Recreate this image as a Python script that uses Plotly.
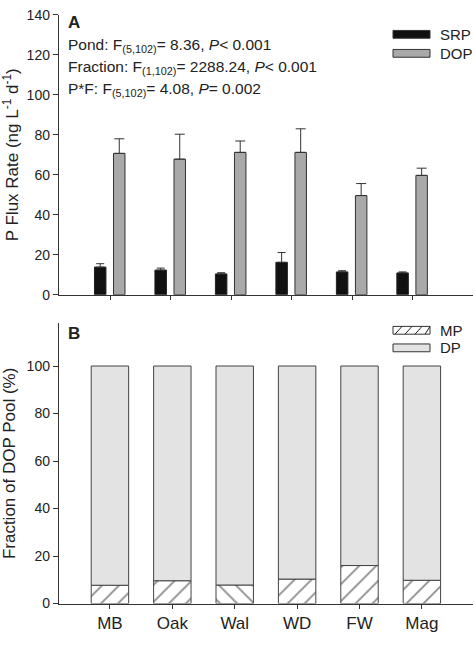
import plotly.graph_objects as go

ponds = ["MB", "Oak", "Wal", "WD", "FW", "Mag"]
srp = [13.8, 12.3, 10.4, 16.2, 11.4, 10.9]
srp_se = [1.7, 1.0, 0.6, 4.9, 0.6, 0.5]
dop = [70.7, 67.8, 71.2, 71.2, 49.6, 59.7]
dop_se = [7.3, 12.5, 5.7, 11.8, 6.0, 3.6]
mp = [7.7, 9.6, 7.8, 10.3, 16.0, 9.8]
dp = [100 - v for v in mp]
mp_hatch = ["/", "/", "\\", "/", "/", "/"]

font = "Liberation Sans, Arial, sans-serif"
axcol = "#333333"

fig = go.Figure()

# panel A
fig.add_trace(go.Bar(x=list(range(6)), y=srp, width=0.19, offset=-0.26,
                     marker=dict(color="#111111", line=dict(color="#222222", width=1)),
                     error_y=dict(type="data", symmetric=False, array=srp_se,
                                  arrayminus=[0] * 6, color="#333333",
                                  thickness=1, width=4),
                     xaxis="x", yaxis="y", showlegend=False))
fig.add_trace(go.Bar(x=list(range(6)), y=dop, width=0.19, offset=0.055,
                     marker=dict(color="#a9a9a9", line=dict(color="#333333", width=1)),
                     error_y=dict(type="data", symmetric=False, array=dop_se,
                                  arrayminus=[0] * 6, color="#333333",
                                  thickness=1, width=5),
                     xaxis="x", yaxis="y", showlegend=False))

# panel B
fig.add_trace(go.Bar(x=list(range(6)), y=mp, width=0.6, offset=-0.3,
                     marker=dict(color="white", line=dict(color="#444444", width=1),
                                 pattern=dict(shape=mp_hatch, fgcolor="#111111",
                                              bgcolor="white", size=12, solidity=0.14)),
                     xaxis="x2", yaxis="y2", showlegend=False))
fig.add_trace(go.Bar(x=list(range(6)), y=dp, base=mp, width=0.6, offset=-0.3,
                     marker=dict(color="#e3e3e3", line=dict(color="#444444", width=1)),
                     xaxis="x2", yaxis="y2", showlegend=False))

axis_common = dict(showline=True, linecolor=axcol, linewidth=1, ticks="outside",
                   tickcolor=axcol, showgrid=False, zeroline=False,
                   ticklabeloverflow="allow",
                   tickfont=dict(family=font, size=14, color="#222222"))

fig.update_layout(
    width=474, height=645,
    margin=dict(l=0, r=0, t=0, b=0),
    paper_bgcolor="white", plot_bgcolor="white",
    barmode="overlay",
    font=dict(family=font, color="#222222"),
    xaxis=dict(domain=[0.124, 0.998], range=[-0.85, 6.0], anchor="y",
               tickvals=list(range(6)), ticktext=[""] * 6, ticklen=4, **axis_common),
    yaxis=dict(domain=[0.5442, 0.9891], range=[0, 140.01], anchor="x",
               tickvals=[0, 20, 40, 60, 80, 100, 120, 140], ticklen=5,
               title=dict(text="P Flux Rate (ng L<sup>-1</sup> d<sup>-1</sup>)",
                          font=dict(family=font, size=17, color="#222222"), standoff=8),
               **axis_common),
    xaxis2=dict(domain=[0.124, 0.998], range=[-0.82, 5.82], anchor="y2",
                tickvals=list(range(6)), ticktext=ponds, ticklen=4,
                **{k: v for k, v in axis_common.items() if k != "tickfont"},
                tickfont=dict(family=font, size=17, color="#222222")),
    yaxis2=dict(domain=[0.0532, 0.4988], range=[0, 118], anchor="x2",
                tickvals=[0, 20, 40, 60, 80, 100], ticklen=5,
                title=dict(text="Fraction of DOP Pool (%)",
                           font=dict(family=font, size=17, color="#222222"), standoff=8),
                **axis_common),
)

# panel labels and statistics
txt = [
    ("<b>A</b>", 15, 17),
    ("Pond: F<sub>(5,102)</sub>= 8.36, <i>P</i>< 0.001", 38, 15.5),
    ("Fraction: F<sub>(1,102)</sub>= 2288.24, <i>P</i>< 0.001", 61, 15.5),
    ("P*F: F<sub>(5,102)</sub>= 4.08, <i>P</i>= 0.002", 84, 15.5),
    ("<b>B</b>", 334, 17),
]
for t, ypx, sz in txt:
    fig.add_annotation(text=t, x=66 / 474, y=1 - ypx / 645, xref="paper", yref="paper",
                       xanchor="left", yanchor="middle", showarrow=False,
                       font=dict(family=font, size=sz, color="#222222"))

# legends
leg = [
    ("SRP", 27, dict(fillcolor="#111111"), None),
    ("DOP", 46.5, dict(fillcolor="#a9a9a9"), None),
    ("MP", 330.5, dict(fillcolor="white"), "/"),
    ("DP", 348.5, dict(fillcolor="#e3e3e3"), None),
]
for name, ycpx, fill, hatch in leg:
    y0 = 1 - (ycpx + 4) / 645
    y1 = 1 - (ycpx - 4) / 645
    fig.add_shape(type="rect", xref="paper", yref="paper", x0=393 / 474, x1=430 / 474,
                  y0=y0, y1=y1, line=dict(color="#333333", width=1), **fill)
    if hatch:
        for k in range(4):
            xa = 393 + 2 + k * 10
            fig.add_shape(type="line", xref="paper", yref="paper",
                          x0=xa / 474, x1=min(xa + 7, 430) / 474, y0=y0, y1=y1,
                          line=dict(color="#222222", width=1))
    fig.add_annotation(text=name, x=438 / 474, y=1 - ycpx / 645, xref="paper", yref="paper",
                       xanchor="left", yanchor="middle", showarrow=False,
                       font=dict(family=font, size=15, color="#222222"))

fig.write_html("out.html", config={"displayModeBar": False},
               post_script="document.body.style.margin='0';")
